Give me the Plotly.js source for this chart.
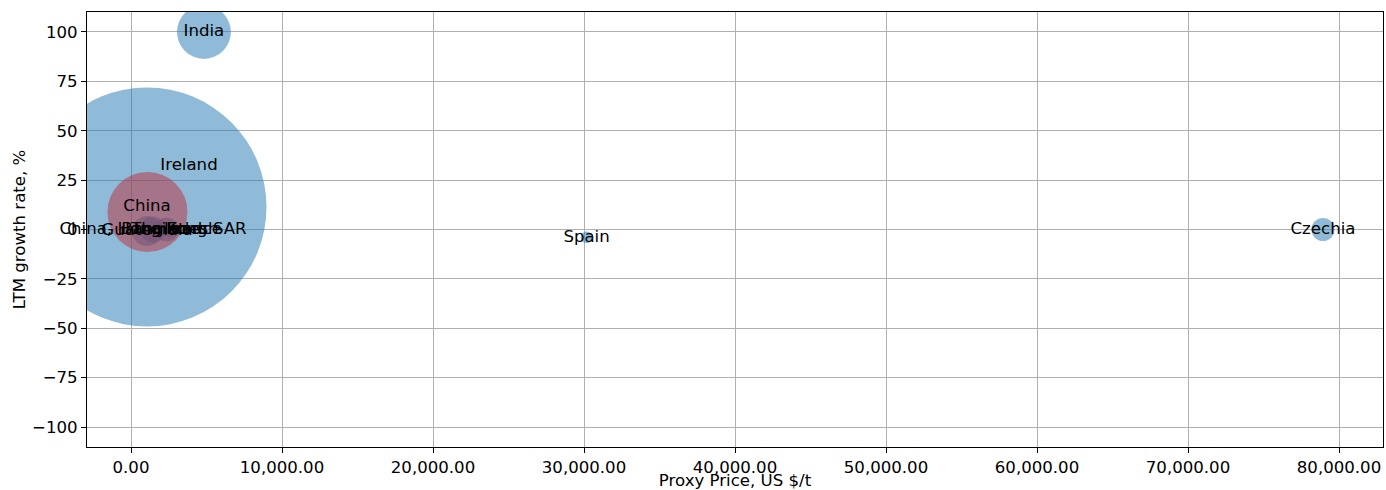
<!DOCTYPE html>
<html>
<head>
<meta charset="utf-8">
<script src="https://cdn.plot.ly/plotly-3.0.1.min.js"></script>
<style>
  html, body { margin: 0; padding: 0; background: #fff; }
  #chart { width: 1386px; height: 490px; }
</style>
</head>
<body>
<div id="chart"></div>
<script>
// Countries (blue series)
const countries = ["China", "India", "Czechia", "Spain", "Ireland", "France",
                   "Guatemala", "China, Hong Kong SAR", "Thailand", "Bangladesh"];
const proxyPrice = [1060, 4830, 78940, 30170, 3840, 4190, 1060, 1460, 2360, 2580];   // US $/t
const growthRate = [11.4, 100, 0, -4, 32.2, 0, -0.8, 0, 0, -0.3];                    // LTM growth, %
const volume = [571, 29, 5.3, 1.4, 0.16, 0.36, 9, 6.8, 5.8, 2];                        // bubble size values

// Highlighted series (red)
const hlPrice = [1090];
const hlGrowth = [8.9];
const hlVolume = [64];

// Axis ticks
const xTicks = [0, 10000, 20000, 30000, 40000, 50000, 60000, 70000, 80000];
const yTicks = [-100, -75, -50, -25, 0, 25, 50, 75, 100];

const font = "DejaVu Sans, Verdana, sans-serif";
const fs = 16.6;

const traces = [
  {
    type: "scatter", mode: "markers",
    x: proxyPrice, y: growthRate,
    marker: { size: volume, sizemode: "area", sizeref: 0.02, opacity: 1,
              color: "rgba(31,119,180,0.5)", line: { width: 0 } },
    cliponaxis: true, hoverinfo: "skip", showlegend: false
  },
  {
    type: "scatter", mode: "markers",
    x: hlPrice, y: hlGrowth,
    marker: { size: hlVolume, sizemode: "area", sizeref: 0.02, opacity: 1,
              color: "rgba(190,45,55,0.5)", line: { width: 0 } },
    cliponaxis: true, hoverinfo: "skip", showlegend: false
  },
  {
    type: "scatter", mode: "text",
    x: proxyPrice, y: growthRate, text: countries,
    textposition: "middle center",
    textfont: { family: font, size: fs, color: "#000" },
    cliponaxis: false, hoverinfo: "skip", showlegend: false
  }
];

const layout = {
  width: 1386, height: 490,
  margin: { l: 87, r: 3, t: 12, b: 43 },
  paper_bgcolor: "#fff", plot_bgcolor: "#fff",
  font: { family: font, size: fs, color: "#000" },
  showlegend: false,
  xaxis: {
    range: [-2914, 82914],
    tickvals: xTicks, tickformat: ",.2f",
    ticks: "outside", ticklen: 5, tickwidth: 1, tickcolor: "#000",
    showline: true, mirror: true, linecolor: "#000", linewidth: 1,
    showgrid: true, gridcolor: "#b0b0b0", gridwidth: 1, zeroline: false,
    tickfont: { family: font, size: fs, color: "#000" },
    title: { text: "Proxy Price, US $/t", font: { family: font, size: fs, color: "#000" }, standoff: 6 }
  },
  yaxis: {
    range: [-110.1, 110.1],
    tickvals: yTicks,
    ticks: "outside", ticklen: 5, tickwidth: 1, tickcolor: "#000",
    showline: true, mirror: true, linecolor: "#000", linewidth: 1,
    showgrid: true, gridcolor: "#b0b0b0", gridwidth: 1, zeroline: false,
    tickfont: { family: font, size: fs, color: "#000" },
    title: { text: "LTM growth rate, %", font: { family: font, size: fs, color: "#000" }, standoff: 2 }
  }
};

Plotly.newPlot("chart", traces, layout, { displayModeBar: false, staticPlot: true });
</script>
</body>
</html>
